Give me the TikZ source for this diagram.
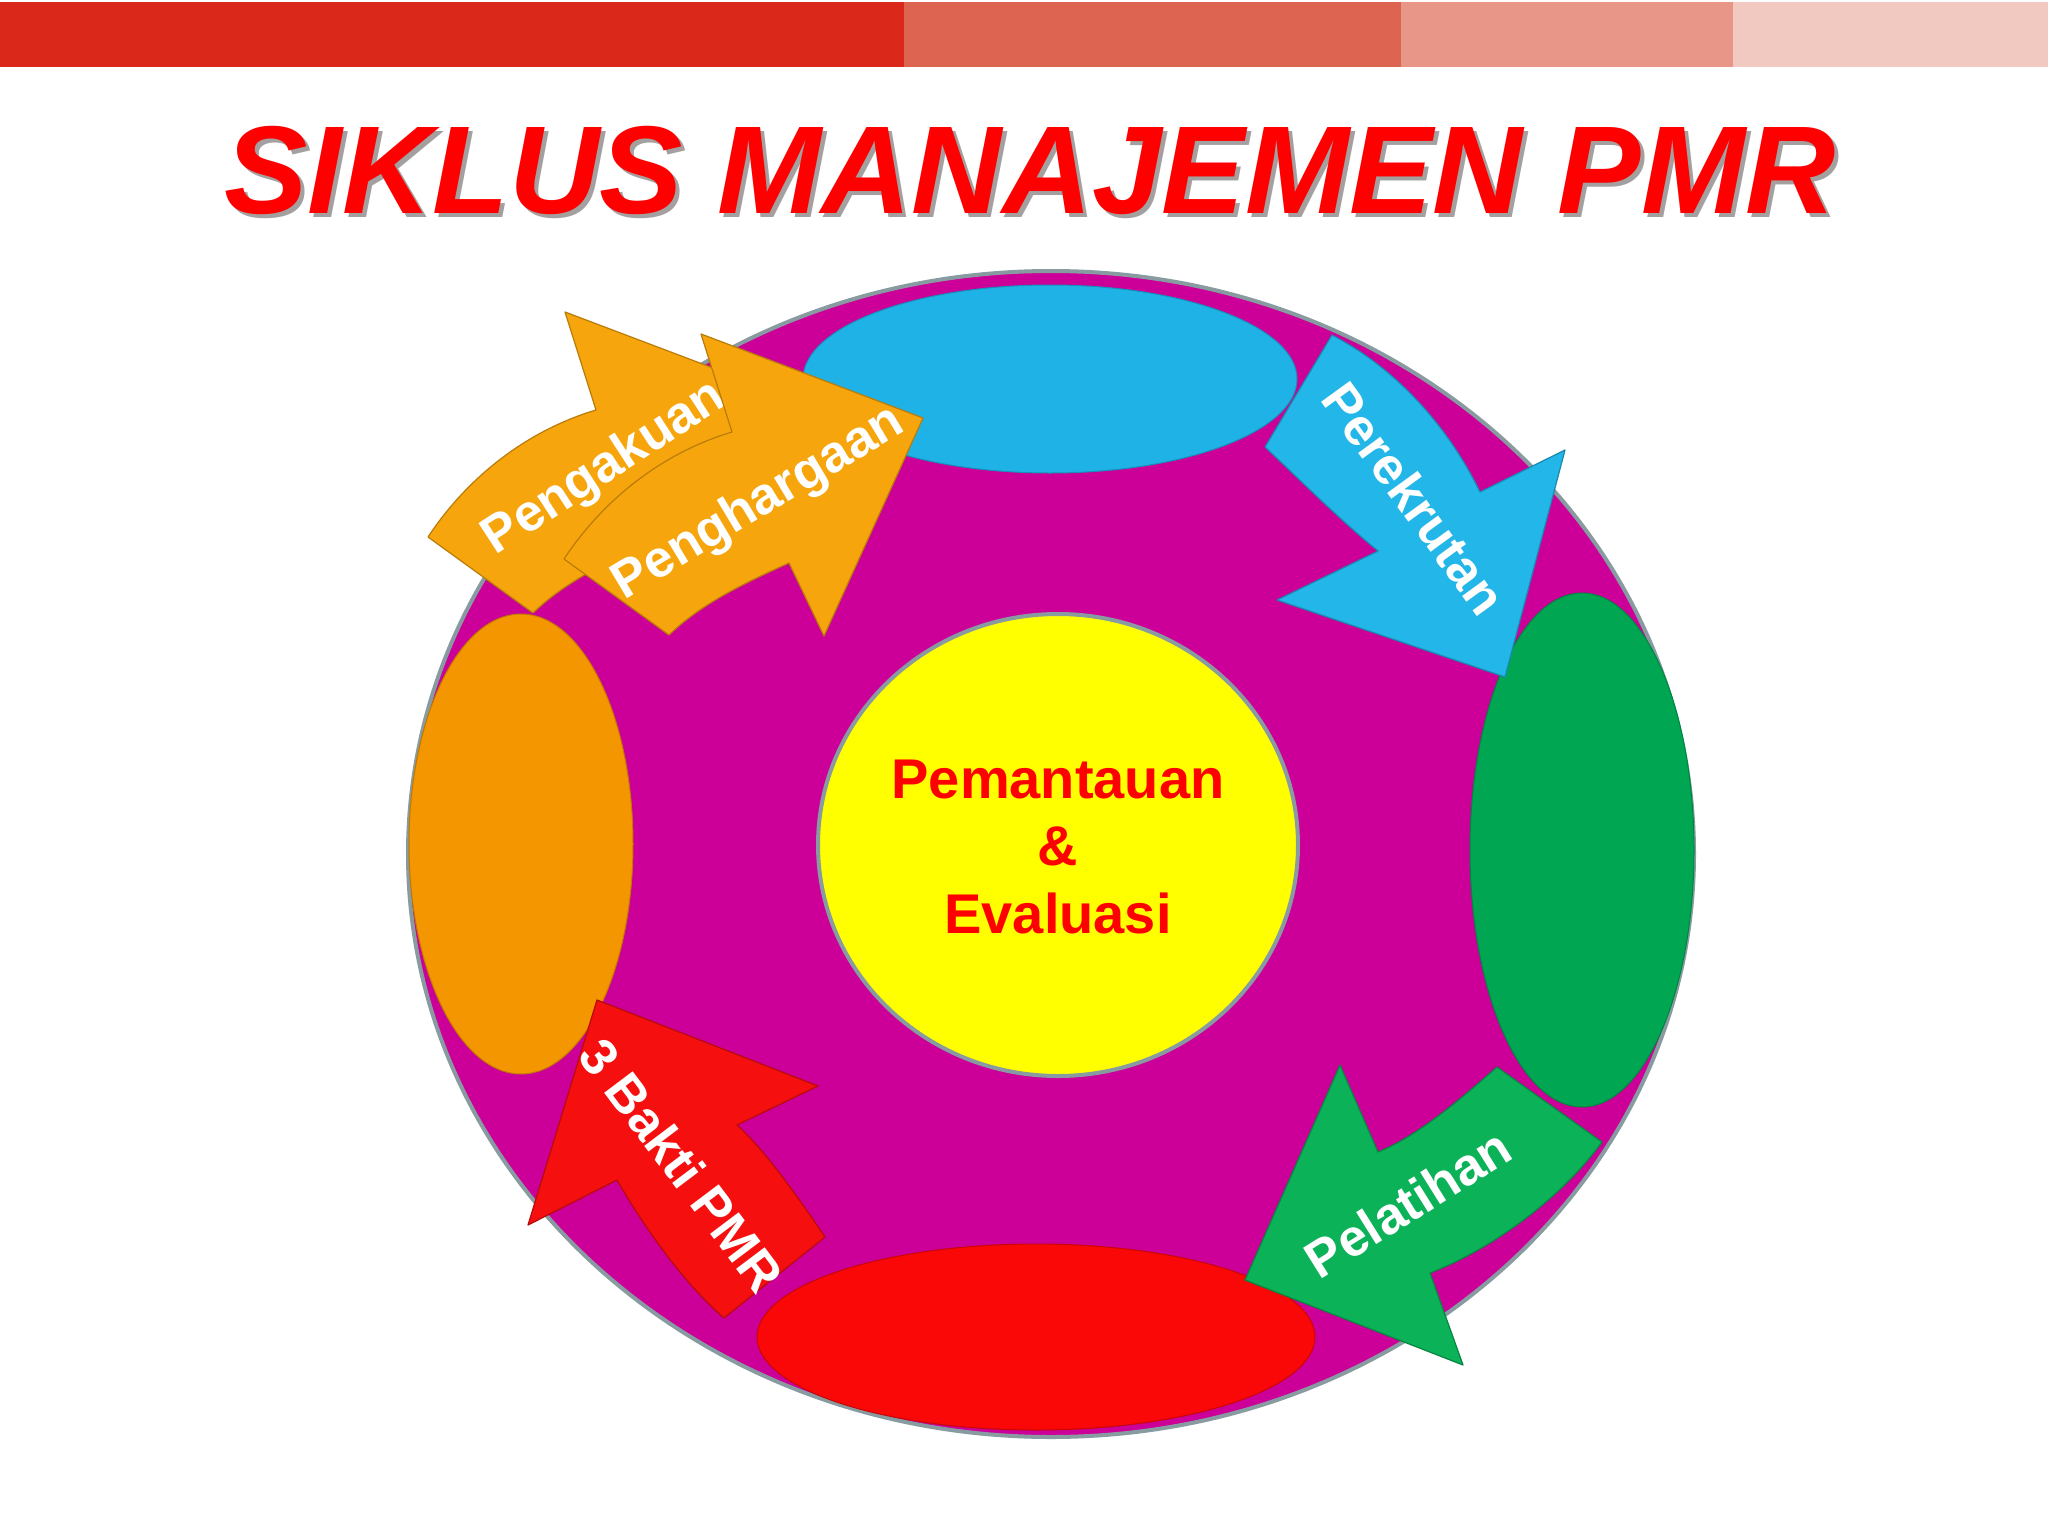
\documentclass[tikz,border=0pt]{standalone}
\usepackage{fontspec}
\setmainfont{Liberation Sans}
\usetikzlibrary{shapes.geometric}
\definecolor{barA}{RGB}{218,40,26}
\definecolor{barB}{RGB}{221,100,80}
\definecolor{barC}{RGB}{231,150,136}
\definecolor{barD}{RGB}{242,201,193}
\definecolor{mag}{RGB}{204,0,153}
\definecolor{rimgray}{RGB}{135,155,160}
\definecolor{cyanE}{RGB}{30,178,230}
\definecolor{greenE}{RGB}{0,166,81}
\definecolor{orangeE}{RGB}{243,150,0}
\definecolor{redE}{RGB}{250,8,8}
\definecolor{orangeA}{RGB}{247,165,12}
\definecolor{blueA}{RGB}{35,182,232}
\definecolor{greenA}{RGB}{12,178,88}
\definecolor{redA}{RGB}{245,15,15}
\definecolor{titleshade}{RGB}{165,160,160}
\definecolor{coreY}{RGB}{255,255,0}
\begin{document}
\begin{tikzpicture}[x=1pt,y=-1pt,
  oval/.style={ellipse, inner sep=0pt, draw=#1!80!black, line width=1pt, fill=#1},
  arrowbody/.style={fill=#1, draw=#1!75!black, line width=1.2pt, line join=round},
  lbl/.style={text=white, font=\fontsize{52}{60}\selectfont\bfseries, inner sep=0pt},
  ctext/.style={text=red, font=\fontsize{56}{64}\selectfont\bfseries, inner sep=0pt, anchor=base},
  titlefont/.style={font=\fontsize{125}{130}\selectfont\bfseries\itshape, inner sep=0pt, anchor=base}]
\useasboundingbox (0,0) rectangle (2048,1536);
\fill[white] (0,0) rectangle (2048,1536);
% top bar
\fill[barA] (0,2) rectangle (904,67);
\fill[barB] (904,2) rectangle (1401,67);
\fill[barC] (1401,2) rectangle (1733,67);
\fill[barD] (1733,2) rectangle (2048,67);
% title
\node[titlefont, text=titleshade] (titleshadow) at (1034,217) {SIKLUS MANAJEMEN PMR};
\node[titlefont, text=red] (title) at (1030,213) {SIKLUS MANAJEMEN PMR};
% big disc
\node[ellipse, inner sep=0pt, minimum width=1286pt, minimum height=1166pt, fill=mag, draw=rimgray, line width=4pt] (disc) at (1051,854) {};
% ovals
\node[oval=cyanE, minimum width=494pt, minimum height=188pt] (top) at (1050,379) {};
\node[oval=greenE, minimum width=224pt, minimum height=514pt] (right) at (1582,850) {};
\node[oval=orangeE, minimum width=224pt, minimum height=460pt] (left) at (521,844) {};
% red arrow (3 Bakti PMR)
\draw[arrowbody=redA] (597,1000) -- (818,1086) -- (737,1125)
  .. controls (765,1150) and (800,1200) .. (825,1237) -- (724,1318)
  .. controls (680,1280) and (640,1220) .. (617,1180) -- (528,1225) -- cycle;
\node[lbl, rotate=-53] (lbakti) at (682,1165) {3 Bakti PMR};
\node[oval=redE, minimum width=558pt, minimum height=186pt] (bottom) at (1036,1337) {};
% centre disc
\node[ellipse, inner sep=0pt, minimum width=480pt, minimum height=462pt, fill=coreY, draw=rimgray, line width=4pt] (core) at (1058,845) {};
\node[ctext] (t1) at (1058,798) {Pemantauan};
\node[ctext] (t2) at (1058,865) {\&};
\node[ctext] (t3) at (1058,933) {Evaluasi};
% blue arrow (Perekrutan)
\draw[arrowbody=blueA] (1332,335) .. controls (1390,365) and (1445,420) .. (1480,492)
  -- (1565,450) -- (1505,677) -- (1277,600) -- (1378,551)
  .. controls (1340,520) and (1300,480) .. (1265,447) -- cycle;
\node[lbl, rotate=-54] (lperek) at (1414,498) {Perekrutan};
% green arrow (Pelatihan)
\draw[arrowbody=greenA] (1497,1067) -- (1602,1142)
  .. controls (1560,1200) and (1490,1250) .. (1430,1273)
  -- (1463,1365) -- (1245,1280) -- (1340,1065) -- (1378,1152)
  .. controls (1420,1135) and (1465,1095) .. cycle;
\node[lbl, rotate=32] (lpelat) at (1408,1203) {Pelatihan};
% orange arrows
\begin{scope}[shift={(-136,-22)}]
\draw[arrowbody=orangeA] (564,559) .. controls (605,497) and (665,452) .. (732,432)
  -- (701,334) -- (923,418) -- (824,636) -- (789,563)
  .. controls (740,585) and (700,605) .. (669,635) -- cycle;
\end{scope}
\node[lbl, rotate=33] (lpengak) at (605,469) {Pengakuan};
\draw[arrowbody=orangeA] (564,559) .. controls (605,497) and (665,452) .. (732,432)
  -- (701,334) -- (923,418) -- (824,636) -- (789,563)
  .. controls (740,585) and (700,605) .. (669,635) -- cycle;
\node[lbl, rotate=31] (lpengh) at (759,504) {Penghargaan};
\end{tikzpicture}
\end{document}
